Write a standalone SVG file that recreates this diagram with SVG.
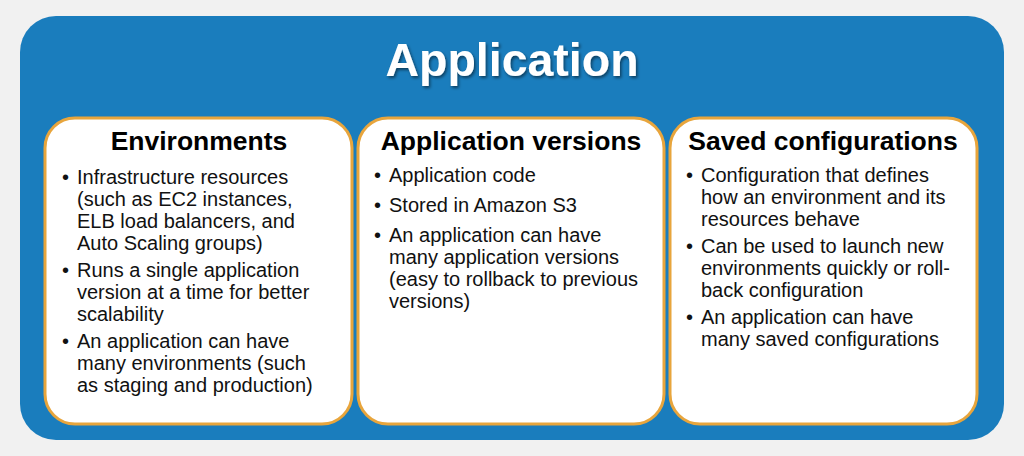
<svg xmlns="http://www.w3.org/2000/svg" width="1024" height="456" viewBox="0 0 1024 456">
<style>
.t{font-family:"Liberation Sans",Arial,sans-serif;font-size:46.5px;font-weight:bold;fill:#fff}
.h{font-family:"Liberation Sans",Arial,sans-serif;font-size:26.5px;font-weight:bold;fill:#000;text-anchor:middle}
.b{font-family:"Liberation Sans",Arial,sans-serif;font-size:20px;fill:#111}
.p{fill:#fff;stroke:#e8a53c;stroke-width:3}
</style>
<defs><filter id="s"><feDropShadow dx="1.5" dy="2" stdDeviation="1.5" flood-color="#000" flood-opacity="0.5"/></filter></defs>
<rect width="1024" height="456" fill="#f1f1f1"/>
<g id="application">
<rect x="20" y="16" width="984" height="424" rx="36" fill="#1a7dbd"/>
<text class="t" x="512" y="76" text-anchor="middle" filter="url(#s)">Application</text>
</g>
<g id="environments">
<rect class="p" x="45" y="118" width="307" height="306" rx="30"/>
<text class="h" x="199" y="150">Environments</text>
<text class="b"><tspan x="62" y="184">•</tspan><tspan x="77" y="184">Infrastructure resources</tspan><tspan x="77" y="206">(such as EC2 instances,</tspan><tspan x="77" y="228">ELB load balancers, and</tspan><tspan x="77" y="250">Auto Scaling groups)</tspan>
<tspan x="62" y="277">•</tspan><tspan x="77" y="277">Runs a single application</tspan><tspan x="77" y="299">version at a time for better</tspan><tspan x="77" y="321">scalability</tspan>
<tspan x="62" y="348">•</tspan><tspan x="77" y="348">An application can have</tspan><tspan x="77" y="370">many environments (such</tspan><tspan x="77" y="392">as staging and production)</tspan></text>
</g>
<g id="versions">
<rect class="p" x="358" y="118" width="306" height="306" rx="30"/>
<text class="h" x="511" y="150">Application versions</text>
<text class="b"><tspan x="374" y="182">•</tspan><tspan x="389" y="182">Application code</tspan>
<tspan x="374" y="212">•</tspan><tspan x="389" y="212">Stored in Amazon S3</tspan>
<tspan x="374" y="242">•</tspan><tspan x="389" y="242">An application can have</tspan><tspan x="389" y="264">many application versions</tspan><tspan x="389" y="286">(easy to rollback to previous</tspan><tspan x="389" y="308">versions)</tspan></text>
</g>
<g id="configurations">
<rect class="p" x="670" y="118" width="307" height="306" rx="30"/>
<text class="h" x="823" y="150">Saved configurations</text>
<text class="b"><tspan x="686" y="182">•</tspan><tspan x="701" y="182">Configuration that defines</tspan><tspan x="701" y="204">how an environment and its</tspan><tspan x="701" y="226">resources behave</tspan>
<tspan x="686" y="253">•</tspan><tspan x="701" y="253">Can be used to launch new</tspan><tspan x="701" y="275">environments quickly or roll-</tspan><tspan x="701" y="297">back configuration</tspan>
<tspan x="686" y="324">•</tspan><tspan x="701" y="324">An application can have</tspan><tspan x="701" y="346">many saved configurations</tspan></text>
</g>
<g id="connectors"/>
</svg>
